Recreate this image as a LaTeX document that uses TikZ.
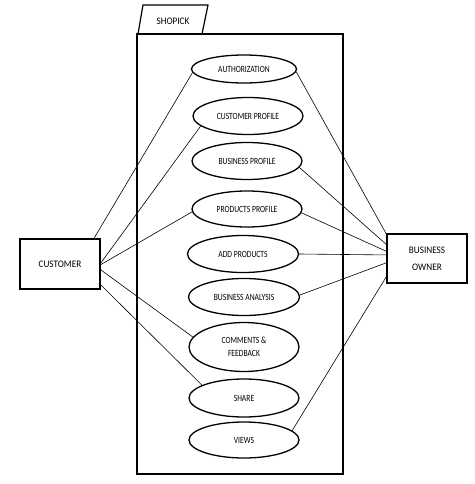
\documentclass[tikz,border=0pt]{standalone}
\usepackage{fontspec}
\setmainfont{Carlito}
\newfontfamily\ucfont[FakeStretch=0.8]{Carlito}
\newfontfamily\acfont[FakeStretch=0.92]{Carlito}
\usetikzlibrary{shapes.geometric}
\begin{document}
\begin{tikzpicture}[x=1pt,y=-1pt,
  usecase/.style={draw,ellipse,line width=1.3pt,inner sep=0pt,minimum width=110pt,minimum height=37pt,font=\ucfont\fontsize{9.5}{12.5}\selectfont,align=center},
  actor/.style={draw,rectangle,line width=1.2pt,inner sep=0pt,minimum width=80pt,minimum height=50pt,font=\acfont\fontsize{10}{17}\selectfont,align=center},
  link/.style={line width=0.6pt}]
\useasboundingbox (0,0) rectangle (474,484);
% package frame
\draw[line width=1.2pt] (137,34) rectangle (343,474);
\draw[line width=1.2pt] (138,34) -- (143,5) -- (208,5) -- (202,34);
\node[font=\acfont\fontsize{10}{12}\selectfont] (pkg) at (173,21) {SHOPICK};
% use cases
\node[usecase,minimum width=105pt,minimum height=28pt] (auth) at (244,69) {AUTHORIZATION};
\node[usecase] (cprof) at (248,116) {CUSTOMER PROFILE};
\node[usecase] (bprof) at (247,161) {BUSINESS PROFILE};
\node[usecase,minimum height=36pt] (pprof) at (247,209) {PRODUCTS PROFILE};
\node[usecase,minimum width=111pt] (addp) at (243,254) {ADD PRODUCTS};
\node[usecase,minimum width=111pt] (banal) at (244,297) {BUSINESS ANALYSIS};
\node[usecase,minimum height=49pt] (comm) at (244,347) {COMMENTS \&\\FEEDBACK};
\node[usecase,minimum height=38pt] (share) at (244,398) {SHARE};
\node[usecase,minimum height=36pt] (views) at (244,440) {VIEWS};
% actors
\node[actor] (cust) at (60,264) {CUSTOMER};
\node[actor,minimum height=49pt] (owner) at (427,258.5) {BUSINESS\\OWNER};
% customer links
\draw[link] (cust.37) -- (auth.184.5);
\draw[link] (cust.1) -- (cprof.192);
\draw[link] (cust.-1) -- (pprof.183);
\draw[link] (cust.-8.5) -- (comm.169);
\draw[link] (cust.-27.7) -- (share.163.5);
% owner links
\draw[link] (owner.149.6) -- (auth.-3);
\draw[link] (owner.161.4) -- (bprof.-7);
\draw[link] (owner.170.8) -- (pprof.-4);
\draw[link] (owner.175) -- (addp.0);
\draw[link] (owner.186.4) -- (banal.2);
\draw[link] (owner.204.8) -- (views.11.8);
\end{tikzpicture}
\end{document}
